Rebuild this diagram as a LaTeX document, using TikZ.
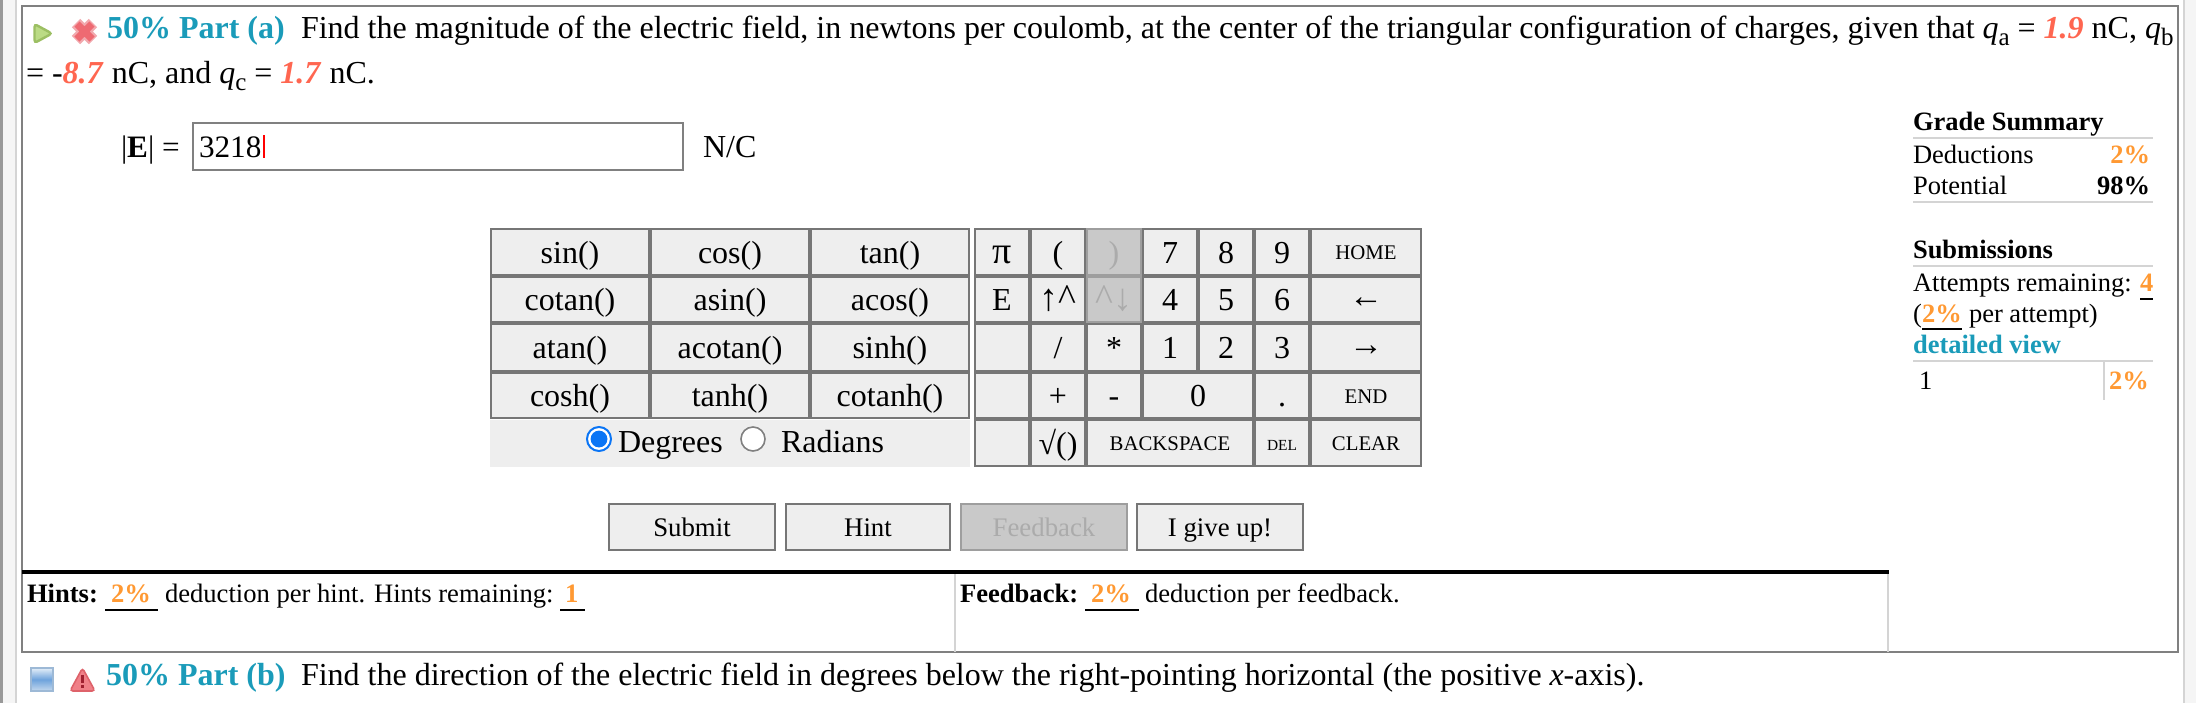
\documentclass[tikz,border=0pt]{standalone}
\usepackage{fontspec}
\setmainfont{Liberation Serif}
\usepackage{tikz}
\usetikzlibrary{positioning,calc,shapes.geometric}
\definecolor{partteal}{HTML}{1A9BB9}
\definecolor{ptorange}{HTML}{FF9933}
\definecolor{valred}{HTML}{FF6650}
\definecolor{keyfill}{HTML}{EEEEEE}
\definecolor{keyedge}{HTML}{767676}
\definecolor{keydark}{HTML}{2B2B2B}
\definecolor{offfill}{HTML}{C9C9C9}
\definecolor{offedge}{HTML}{9E9E9E}
\definecolor{offtext}{HTML}{ABABAB}
\definecolor{framegray}{HTML}{808080}
\definecolor{rulegray}{HTML}{D4D4D4}
\definecolor{pagegray}{HTML}{F5F5F5}
\definecolor{radioblue}{HTML}{0A75F5}
\definecolor{playfill}{HTML}{BBDB85}
\definecolor{playedge}{HTML}{9CBF63}
\definecolor{crosspale}{HTML}{F2A9AE}
\definecolor{crossred}{HTML}{EE6A72}
\definecolor{warnfill}{HTML}{F08088}
\definecolor{warnedge}{HTML}{DE626A}
\definecolor{warnmark}{HTML}{A02030}
\definecolor{boxtop}{HTML}{E4EEF8}
\definecolor{boxmid}{HTML}{6EA3DC}
\definecolor{boxlow}{HTML}{C5D9EE}
\definecolor{boxedge}{HTML}{9DB9D6}
\newcommand{\orng}[1]{\textcolor{ptorange}{\textbf{#1}}}
\newcommand{\valr}[1]{\textcolor{valred}{\textbf{\textit{#1}}}}
\newcommand{\qsub}[1]{\textit{q}\raisebox{-.22em}{\fontsize{12.5}{12}\selectfont #1}}
\tikzset{
  txtbase/.style={anchor=base west,inner sep=0pt,outer sep=0pt},
  bodytxt/.style={txtbase,font=\fontsize{16}{18}\selectfont},
  sidetxt/.style={txtbase,font=\fontsize{13.25}{16}\selectfont},
  hinttxt/.style={txtbase,font=\fontsize{13.3}{16}\selectfont},
  partlbl/.style={txtbase,font=\fontsize{16}{18}\selectfont\bfseries,text=partteal},
  rulethin/.style={rulegray,line width=1pt},
  uline/.style={black,line width=1pt},
  btn/.style={rectangle,draw=keyedge,fill=keyfill,line width=1pt,inner sep=0pt,outer sep=0pt,
    text=black,text height=11pt,text depth=0pt,font=\fontsize{16}{18}\selectfont,
    append after command={\pgfextra{\draw[keydark,line width=1pt]
      (\tikzlastnode.south west) -- (\tikzlastnode.south east) -- (\tikzlastnode.north east);}}},
  btnsmall/.style={btn,text height=7.5pt,font=\fontsize{10.4}{12}\selectfont},
  btntiny/.style={btn,text height=7.5pt,font=\fontsize{7.7}{10}\selectfont},
  btnarrow/.style={btn,text height=8pt,font=\fontsize{17}{18}\selectfont},
  btnoff/.style={rectangle,draw=offedge,fill=offfill,line width=1pt,inner sep=0pt,outer sep=0pt,
    text=offtext,text height=11pt,text depth=0pt,font=\fontsize{16}{18}\selectfont},
  btnlow/.style={btn,text height=9.5pt,font=\fontsize{13.4}{16}\selectfont},
  btnlowoff/.style={btnoff,text height=9.5pt,font=\fontsize{13.4}{16}\selectfont},
}

\begin{document}
\begin{tikzpicture}[x=0.5pt,y=-0.5pt]
\useasboundingbox (0,0) rectangle (2196,703);

% page edges and frame
\fill[pagegray] (0,0) rectangle (16,703);
\fill[pagegray] (2184,0) rectangle (2196,703);
\fill[black!40] (0,0) rectangle (3,703);
\draw[rulegray,line width=1pt] (16,0) -- (16,703);
\draw[rulegray,line width=1.25pt] (2184,0) -- (2184,703);
\draw[framegray,line width=1.1pt] (22,6) rectangle (2178,652);

% part a header
\fill[playfill,draw=playedge,line width=1.2pt,rounded corners=1.5pt] (34.5,24) -- (52,33.5) -- (34.5,43) -- cycle;
\draw[crosspale,line width=6pt] (76,23) -- (93,40) (93,23) -- (76,40);
\draw[crossred,line width=3.6pt] (77,24) -- (92,39) (92,24) -- (77,39);
\node[partlbl] (parta) at (107,38.5) {50\% Part (a)};
\node[bodytxt] (line1) at (301,38.5) {Find the magnitude of the electric field, in newtons per coulomb, at the center of the triangular configuration of charges, given that \qsub{a} = \valr{1.9} nC, \qsub{b}};
\node[bodytxt] (line2) at (26,83.5) {= -\valr{8.7} nC, and \qsub{c} = \valr{1.7} nC.};

% answer box
\node[bodytxt,font=\fontsize{15.6}{18}\selectfont] (elabel) at (121,157) {|\textbf{E}| =};
\node[rectangle,draw=framegray,line width=1pt,inner sep=0pt,minimum width=245pt,minimum height=23.5pt] (ansbox) at (438,146.5) {};
\node[bodytxt,font=\fontsize{15.6}{18}\selectfont] (ansval) at (199,157) {3218};
\draw[red,line width=.6pt] (264,135) -- (264,158);
\node[bodytxt] (unit) at (703,157) {N/C};

% function keys
\foreach \nm/\xa/\xb/\ya/\yb/\txt in {
  ks/490/650/228/276/{sin()},kc/650/810/228/276/{cos()},kt/810/970/228/276/{tan()},
  kct/490/650/276/323/{cotan()},kas/650/810/276/323/{asin()},kac/810/970/276/323/{acos()},
  kat/490/650/323/372/{atan()},kact/650/810/323/372/{acotan()},ksh/810/970/323/372/{sinh()},
  kch/490/650/372/419/{cosh()},kth/650/810/372/419/{tanh()},kcth/810/970/372/419/{cotanh()},
  kpi/974/1030/228/276/{\fontsize{19}{18}\selectfont π},kop/1030/1086/228/276/{(},k7/1142/1198/228/276/7,k8/1198/1254/228/276/8,k9/1254/1310/228/276/9,
  ke/974/1030/276/323/E,kup/1030/1086/276/323/{\fontsize{19}{18}\selectfont ↑\^{}},k4/1142/1198/276/323/4,k5/1198/1254/276/323/5,k6/1254/1310/276/323/6,
  kb3/974/1030/323/372/{},kdiv/1030/1086/323/372/{/},kmul/1086/1142/323/372/*,k1/1142/1198/323/372/1,k2/1198/1254/323/372/2,k3/1254/1310/323/372/3,
  kb4/974/1030/372/419/{},kadd/1030/1086/372/419/+,ksub/1086/1142/372/419/-,k0/1142/1254/372/419/0,kdot/1254/1310/372/419/.,
  kb5/974/1030/419/467/{},ksq/1030/1086/419/467/{√()}}
  \node[btn,minimum width={(\xb-\xa-2)*0.5pt},minimum height={(\yb-\ya-2)*0.5pt}] (\nm) at ({(\xa+\xb)/2},{(\ya+\yb)/2}) {\txt};

% keys set in the small font
\foreach \nm/\xa/\xb/\ya/\yb/\txt in {
  khome/1310/1422/228/276/HOME,kend/1310/1422/372/419/END,
  kback/1086/1254/419/467/BACKSPACE,kclear/1310/1422/419/467/CLEAR}
  \node[btnsmall,minimum width={(\xb-\xa-2)*0.5pt},minimum height={(\yb-\ya-2)*0.5pt}] (\nm) at ({(\xa+\xb)/2},{(\ya+\yb)/2}) {\txt};
\node[btnarrow,minimum width=55pt,minimum height=22.5pt] (kleft) at (1366,299.5) {←};
\node[btnarrow,minimum width=55pt,minimum height=23.5pt] (kright) at (1366,347.5) {→};
\node[btntiny,minimum width=27pt,minimum height=23pt] (kdel) at (1282,443) {DEL};

% greyed keys
\node[btnoff,minimum width=27pt,minimum height=23pt] (kcp) at (1114,252) {)};
\node[btnoff,minimum width=27pt,minimum height=22.5pt] (kdn) at (1114,299.5) {\fontsize{19}{18}\selectfont\^{}↓};

% degrees or radians
\fill[keyfill] (490,420) rectangle (970,467);
\draw[radioblue,fill=white,line width=1pt] (599,439) circle (6pt);
\fill[radioblue] (599,439) circle (4.2pt);
\draw[framegray,fill=white,line width=.8pt] (753,439) circle (6pt);
\node[bodytxt] (deg) at (618,452) {Degrees};
\node[bodytxt] (rad) at (781,452) {Radians};

% action buttons
\node[btnlow,minimum width=83pt,minimum height=23pt] (submit) at (692,527) {Submit};
\node[btnlow,minimum width=82pt,minimum height=23pt] (hint) at (868,527) {Hint};
\node[btnlowoff,minimum width=83pt,minimum height=23pt] (fback) at (1044,527) {Feedback};
\node[btnlow,minimum width=83pt,minimum height=23pt] (giveup) at (1220,527) {I give up!};

% hints row
\draw[black,line width=2pt] (22,572) -- (1889,572);
\draw[rulegray,line width=.75pt] (955,574) -- (955,652) (1888,574) -- (1888,652);
\node[hinttxt] (hintlbl) at (27,602) {\textbf{Hints:}};
\node[hinttxt] (hintpct) at (111,602) {\orng{2\%}};
\node[hinttxt] (hinttext) at (165,602) {deduction per hint. Hints remaining:};
\node[hinttxt] (hintnum) at (565,602) {\orng{1}};
\draw[uline] (105,610) -- (158,610) (560,610) -- (585,610);
\node[hinttxt] (fdlbl) at (960,602) {\textbf{Feedback:}};
\node[hinttxt] (fdpct) at (1091,602) {\orng{2\%}};
\node[hinttxt] (fdtext) at (1145,602) {deduction per feedback.};
\draw[uline] (1085,610) -- (1139,610);

% part b header
\shade[top color=boxtop,bottom color=boxlow,middle color=boxmid,draw=boxedge,line width=1.2pt] (31,668) rectangle (53,691);
\fill[warnfill,draw=warnedge,line width=.8pt,rounded corners=1.5pt] (82.5,668) -- (95,691) -- (70,691) -- cycle;
\draw[warnmark,line width=1.2pt] (82.5,675) -- (82.5,683) (82.5,685) -- (82.5,688);
\node[partlbl] (partb) at (106,685.5) {50\% Part (b)};
\node[bodytxt] (lineb) at (301,685.5) {Find the direction of the electric field in degrees below the right-pointing horizontal (the positive \textit{x}-axis).};

% grade summary
\node[sidetxt] (gradehd) at (1913,130) {\textbf{Grade Summary}};
\draw[rulethin] (1913,138) -- (2153,138);
\node[sidetxt] (deduct) at (1913,163) {Deductions};
\node[sidetxt,anchor=base east] (deductv) at (2150,163) {\orng{2\%}};
\node[sidetxt] (potent) at (1913,194) {Potential};
\node[sidetxt,anchor=base east] (potentv) at (2150,194) {\textbf{98\%}};
\draw[rulethin] (1913,202) -- (2153,202);

% submissions
\node[sidetxt] (subshd) at (1913,258) {\textbf{Submissions}};
\draw[rulethin] (1913,266) -- (2153,266);
\node[sidetxt] (attempts) at (1913,291) {Attempts remaining:};
\node[sidetxt] (attnum) at (2140,291) {\orng{4}};
\draw[uline] (2140,299) -- (2153,299);
\node[sidetxt] (paren) at (1913,322) {(};
\node[sidetxt] (perpct) at (1922,322) {\orng{2\%}};
\node[sidetxt] (perat) at (1969,322) {per attempt)};
\draw[uline] (1922,329) -- (1962,329);
\node[sidetxt,font=\fontsize{13.25}{16}\selectfont\bfseries,text=partteal] (detail) at (1913,353) {detailed view};
\draw[rulethin] (1913,361) -- (2153,361);
\draw[rulethin] (2104,361) -- (2104,400);
\node[sidetxt] (subno) at (1919,389) {1};
\node[sidetxt] (subpct) at (2109,389) {\orng{2\%}};

\end{tikzpicture}
\end{document}
